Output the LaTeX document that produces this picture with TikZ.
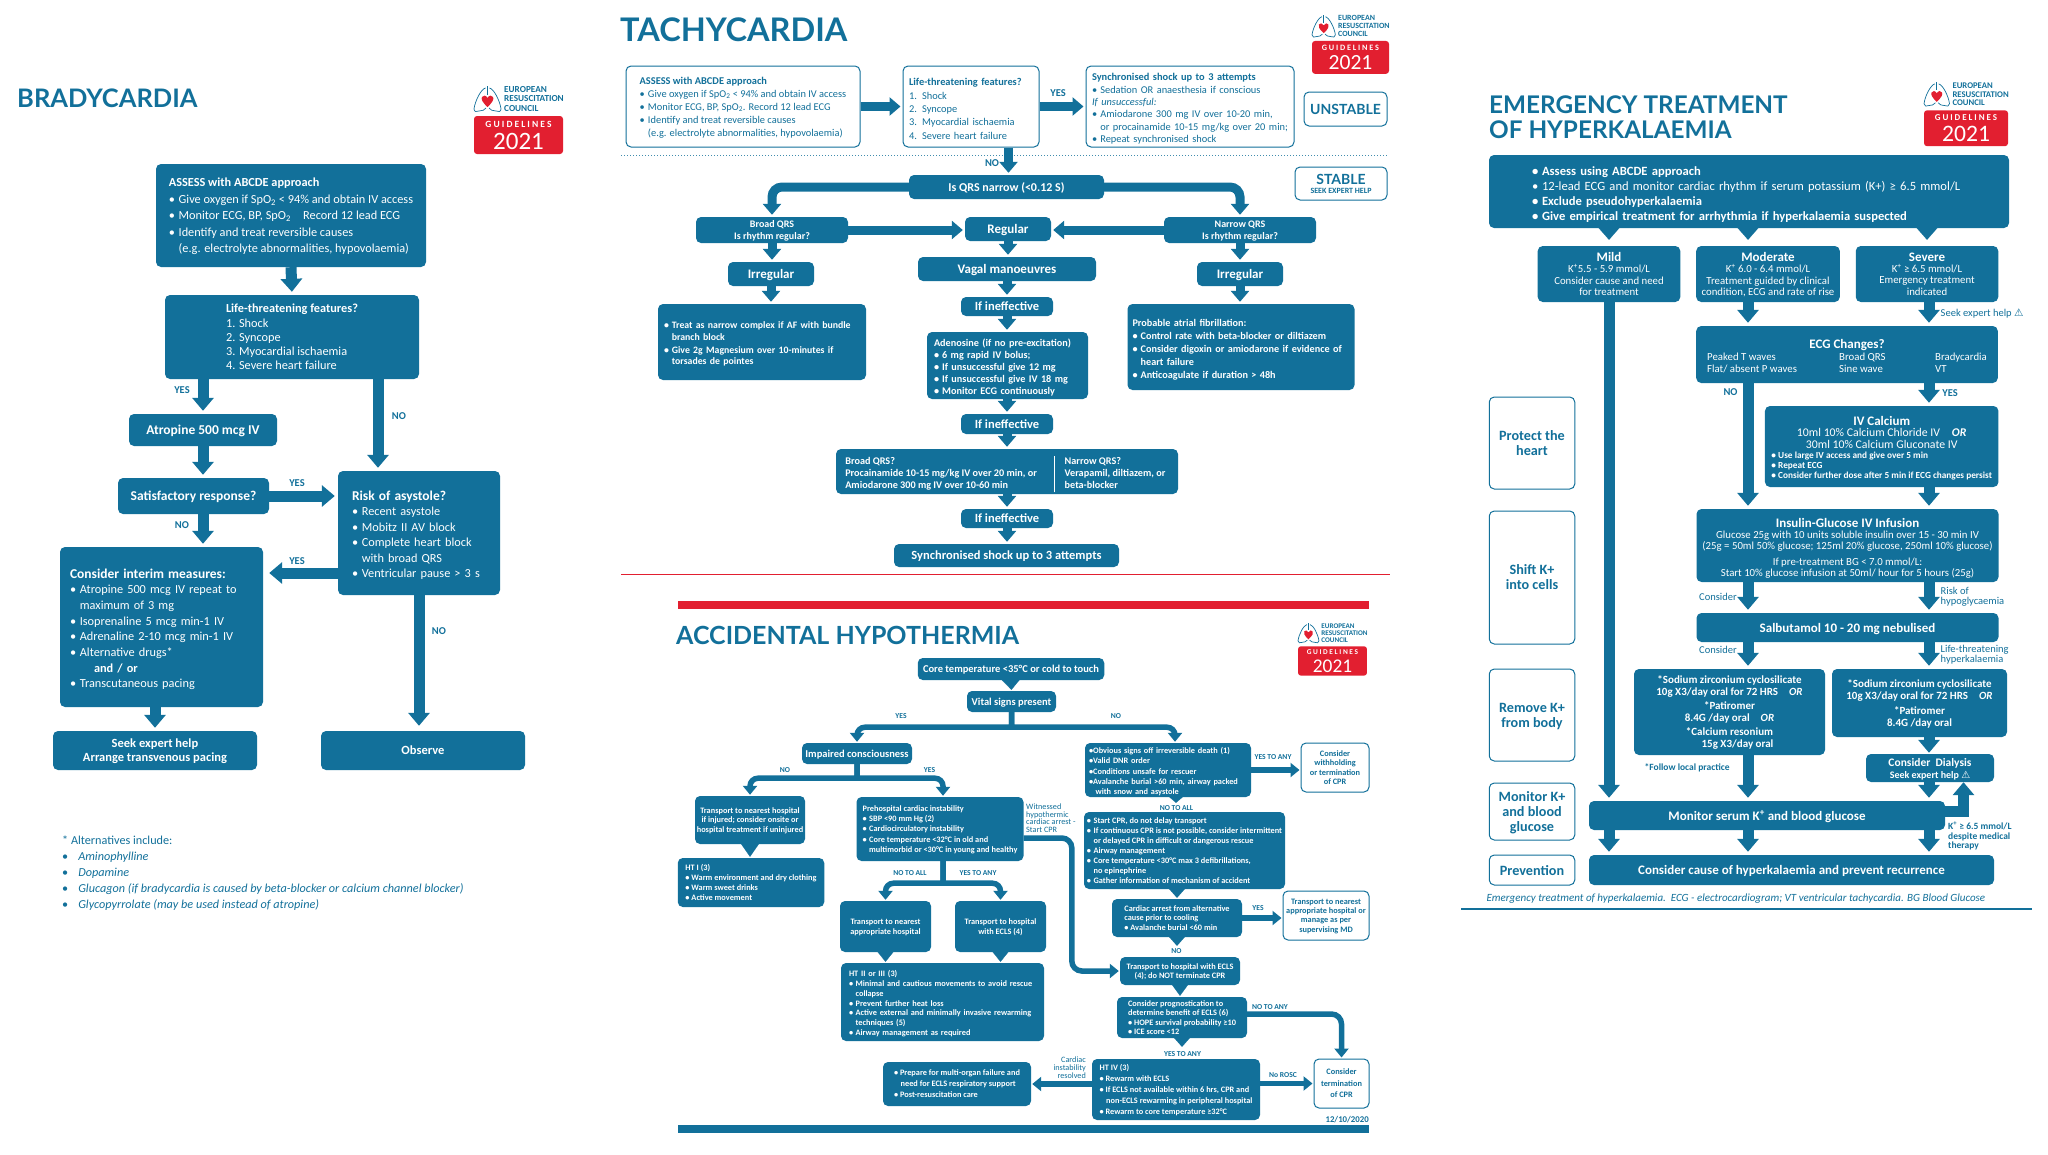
\documentclass[tikz,border=0pt]{standalone}
\usepackage{fontspec}
\setmainfont{Carlito}
\newfontfamily\headfont{Lato}
\newfontfamily\signfont{DejaVu Sans}
\usepackage{xcolor}
\usetikzlibrary{arrows.meta}
\definecolor{ercBlue}{HTML}{12709A}
\definecolor{ercRed}{HTML}{E21F30}

\newcommand{\bul}{\textbullet\hspace{0.3em}}
\newcommand{\cont}{\hphantom{\textbullet\hspace{0.3em}}}
\newcommand{\warnsign}{{\signfont\char"26A0}}
\newcommand{\topup}{\rule{0pt}{1.15em}}

\tikzset{
    txt/.style 2 args={font=\fontsize{#1}{#2}\selectfont},
    btxt/.style 2 args={font=\bfseries\fontsize{#1}{#2}\selectfont},
    boxsize/.style 2 args={minimum width=#1, minimum height=#2},
    padded/.style={text width=#1, text depth=},
    tealbox/.style={fill=ercBlue, text=white, rounded corners=5pt, inner sep=0pt, align=left, text depth=0pt},
    whitebox/.style={draw=ercBlue, line width=1pt, fill=white, text=ercBlue, rounded corners=5pt, inner sep=0pt, align=center, text depth=0pt},
    tag/.style={text=ercBlue, inner sep=0pt, align=left},
    heading/.style={text=ercBlue, anchor=west, inner sep=0pt, align=left, font=\headfont\bfseries\fontsize{#1}{25}\selectfont},
    flow/.style={draw=ercBlue, line width=11pt, -{Triangle[width=21pt,length=13pt]}, shorten >=3pt},
    flowmid/.style={draw=ercBlue, line width=9pt, -{Triangle[width=18pt,length=11pt]}, shorten >=2pt},
    flowthin/.style={draw=ercBlue, line width=5.5pt, -{Triangle[width=14pt,length=9pt]}, shorten >=1pt},
    wedge/.style 2 args={draw=ercBlue, line width=0.1pt, -{Triangle[width=#1pt,length=#2pt]}, shorten >=1pt},
    lungline/.style={draw=ercBlue, line width=0.7pt},
}

\newcommand{\ercLogo}[4]{
    \begin{scope}[shift={(#2,#3)}, scale=#4, transform shape]
        \draw[lungline] (11.5,2) .. controls (7,3) and (1,15) .. (0,23) .. controls (0,26) and (3,26) .. (5,25) .. controls (8,24) and (11,25) .. (12,22);
        \draw[lungline] (15.5,2) .. controls (20,3) and (26,15) .. (27,23) .. controls (27,26) and (24,26) .. (22,25) .. controls (19,24) and (16,25) .. (15,22);
        \draw[lungline] (13.5,0) -- (13.5,9);
        \fill[ercRed] (13.5,21) .. controls (8,16) and (7,13) .. (8,11) .. controls (9,9) and (12,9) .. (13.5,12) .. controls (15,9) and (18,9) .. (19,11) .. controls (20,13) and (19,16) .. (13.5,21) -- cycle;
        \node[text=ercBlue, anchor=west, inner sep=0pt, align=left, btxt={9.2}{9.4}] (#1council) at (30,13) {EUROPEAN\\RESUSCITATION\\COUNCIL};
        \node[fill=ercRed, rounded corners=3pt, boxsize={89}{38}, inner sep=0pt] (#1badge) at (44.5,49) {};
        \node[text=white, inner sep=0pt, font=\bfseries\fontsize{9.5}{10}\selectfont\addfontfeature{LetterSpace=22}] (#1guide) at (44.5,38) {GUIDELINES};
        \node[text=white, inner sep=0pt, font=\fontsize{25}{26}\selectfont] (#1year) at (44.5,55.5) {2021};
    \end{scope}
}

\begin{document}
\begin{tikzpicture}[x=1pt, y=-1pt]
    \useasboundingbox (0,0) rectangle (2048,1154);

    % bradycardia
    \node[heading=25.5] (bradytitle) at (17,98) {BRADYCARDIA};
    \ercLogo{brady}{474}{86}{1}
    \node[tealbox, boxsize={270}{103}, txt={12.3}{16.5}] (assess) at (291,215.5) {
        \textbf{ASSESS with ABCDE approach}\\
        \bul Give oxygen if SpO\textsubscript{2} < 94\% and obtain IV access\\
        \bul Monitor ECG, BP, SpO\textsubscript{2}\quad Record 12 lead ECG\\
        \bul Identify and treat reversible causes\\
        \cont (e.g. electrolyte abnormalities, hypovolaemia)};
    \node[tealbox, boxsize={254}{84}, txt={12.3}{14.3}] (life) at (292,337) {
        \textbf{Life-threatening features?}\\
        1. Shock\\
        2. Syncope\\
        3. Myocardial ischaemia\\
        4. Severe heart failure};
    \node[tealbox, align=center, boxsize={148}{32}, btxt={13.5}{16}] (atropine) at (203,430) {Atropine 500 mcg IV};
    \node[tealbox, align=center, boxsize={151}{36}, btxt={13.5}{16}] (satisfy) at (193.5,496) {Satisfactory response?};
    \node[tealbox, boxsize={162}{124}, txt={12.3}{15.5}, padded=134pt] (risk) at (419,533) {
        \topup{\bfseries\fontsize{13.5}{16}\selectfont Risk of asystole?}\\
        \bul Recent asystole\\
        \bul Mobitz II AV block\\
        \bul Complete heart block\\
        \cont with broad QRS\\
        \bul Ventricular pause > 3 s};
    \node[tealbox, boxsize={203}{160}, txt={12.3}{15.7}, padded=183pt] (interim) at (161.5,627) {
        \topup{\bfseries\fontsize{13.5}{16}\selectfont Consider interim measures:}\\
        \bul Atropine 500 mcg IV repeat to\\
        \cont maximum of 3 mg\\
        \bul Isoprenaline 5 mcg min-1 IV\\
        \bul Adrenaline 2-10 mcg min-1 IV\\
        \bul Alternative drugs*\\
        \hspace{24pt}\textbf{and / or}\\
        \bul Transcutaneous pacing};
    \node[tealbox, boxsize={204}{39}, btxt={12.5}{14}, align=center] (seekhelp) at (155,750.5) {Seek expert help\\Arrange transvenous pacing};
    \node[tealbox, boxsize={204}{39}, btxt={12.5}{14}, align=center] (observe) at (423,750.5) {Observe};
    \node[tag, btxt={10.5}{12}] (yeslife) at (182,390) {YES};
    \node[tag, btxt={10.5}{12}] (nolife) at (399,416) {NO};
    \node[tag, btxt={10.5}{12}] (yessat) at (297,483) {YES};
    \node[tag, btxt={10.5}{12}] (nosat) at (182,525) {NO};
    \node[tag, btxt={10.5}{12}] (yesrisk) at (297,561) {YES};
    \node[tag, btxt={10.5}{12}] (norisk) at (439,631) {NO};
    \node[tag, anchor=north west, txt={12.2}{16}] (alternatives) at (62,835.5) {
        * Alternatives include:\\[0.5pt]
        \textbullet\hspace{10pt}\textit{Aminophylline}\\
        \textbullet\hspace{10pt}\textit{Dopamine}\\
        \textbullet\hspace{10pt}\textit{Glucagon (if bradycardia is caused by beta-blocker or calcium channel blocker)}\\
        \textbullet\hspace{10pt}\textit{Glycopyrrolate (may be used instead of atropine)}};
    \draw[flow] (assess.south) -- (life.north);
    \draw[flow] (life.south -| atropine.north) -- (atropine.north);
    \draw[flow] ([xshift=-41]risk.north |- life.south) -- ([xshift=-41]risk.north);
    \draw[flow] (atropine.south) -- (atropine.south |- satisfy.north);
    \draw[flow] (atropine.south |- satisfy.south) -- (atropine.south |- interim.north);
    \draw[flow] (satisfy.east) -- (satisfy.east -| risk.west);
    \draw[flow, shorten >=6pt] ([yshift=-40]risk.west) -- ([yshift=-40]risk.west -| interim.east);
    \draw[flow] (seekhelp.north |- interim.south) -- (seekhelp.north);
    \draw[flow, shorten >=5pt] (risk.south) -- (risk.south |- observe.north);

    % tachycardia
    \node[heading=32.5] (tachytitle) at (620,30) {TACHYCARDIA};
    \ercLogo{tachy}{1312}{15}{0.865}
    \node[whitebox, align=left, boxsize={234}{81}, txt={10.4}{13}] (tassess) at (743,106.5) {
        \textbf{ASSESS with ABCDE approach}\\
        \bul Give oxygen if SpO\textsubscript{2} < 94\% and obtain IV access\\
        \bul Monitor ECG, BP, SpO\textsubscript{2}. Record 12 lead ECG\\
        \bul Identify and treat reversible causes\\
        \cont (e.g. electrolyte abnormalities, hypovolaemia)};
    \node[whitebox, align=left, boxsize={136}{81}, txt={10.4}{13.3}, padded=124pt] (tlife) at (971,106.5) {
        \topup\textbf{Life-threatening features?}\\
        1. Shock\\
        2. Syncope\\
        3. Myocardial ischaemia\\
        4. Severe heart failure};
    \node[whitebox, align=left, boxsize={208}{81}, txt={10.4}{12.4}, padded=196pt] (tshock) at (1190,106.5) {
        \topup\textbf{Synchronised shock up to 3 attempts}\\
        \bul Sedation OR anaesthesia if conscious\\
        \textit{If unsuccessful:}\\
        \bul Amiodarone 300 mg IV over 10-20 min,\\
        \cont or procainamide 10-15 mg/kg over 20 min;\\
        \bul Repeat synchronised shock};
    \node[whitebox, boxsize={83}{34}, font=\headfont\bfseries\fontsize{14}{16}\selectfont] (unstable) at (1345.5,109) {UNSTABLE};
    \node[whitebox, boxsize={92}{33}, txt={8}{9}] (stable) at (1341,183.5) {{\headfont\bfseries\fontsize{14}{15}\selectfont STABLE}\\\textbf{SEEK EXPERT HELP}};
    \coordinate (dotleft) at (621,155);
    \coordinate (dotright) at (1388,155);
    \draw[ercBlue!80, line width=1pt, dotted] (dotleft) -- (dotright);
    \node[tealbox, align=center, boxsize={195}{24}, btxt={12}{14}] (isqrs) at (1006.5,187) {Is QRS narrow (<0.12 S)};
    \node[tealbox, align=center, boxsize={152}{26}, btxt={10}{11.5}] (broad) at (772,230) {Broad QRS\\Is rhythm regular?};
    \node[tealbox, align=center, boxsize={86}{24}, btxt={13}{15}] (regular) at (1008,229) {Regular};
    \node[tealbox, align=center, boxsize={152}{26}, btxt={10}{11.5}] (narrow) at (1240,230) {Narrow QRS\\Is rhythm regular?};
    \node[tealbox, align=center, boxsize={86}{24}, btxt={13}{15}] (irregleft) at (771,274) {Irregular};
    \node[tealbox, align=center, boxsize={178}{24}, btxt={13}{15}] (vagal) at (1007,269) {Vagal manoeuvres};
    \node[tealbox, align=center, boxsize={86}{24}, btxt={13}{15}] (irregright) at (1240,274) {Irregular};
    \node[tealbox, boxsize={208}{76}, btxt={9.8}{11.5}, padded=196pt] (treat) at (762,342) {
        \topup\bul Treat as narrow complex if AF with bundle\\
        \cont branch block\\[1.5pt]
        \bul Give 2g Magnesium over 10-minutes if\\
        \cont torsades de pointes};
    \node[tealbox, align=center, boxsize={92}{19}, btxt={12.5}{14}] (ineffone) at (1007,306.5) {If ineffective};
    \node[tealbox, boxsize={161}{67}, btxt={10.2}{12}, padded=147pt] (adeno) at (1007.5,365.5) {
        \topup Adenosine (if no pre-excitation)\\
        \bul 6 mg rapid IV bolus;\\
        \bul If unsuccessful give 12 mg\\
        \bul If unsuccessful give IV 18 mg\\
        \bul Monitor ECG continuously};
    \node[tealbox, boxsize={227}{86}, btxt={10.2}{13}, padded=217pt] (fib) at (1241,347) {
        \topup Probable atrial fibrillation:\\
        \bul Control rate with beta-blocker or diltiazem\\
        \bul Consider digoxin or amiodarone if evidence of\\
        \cont heart failure\\
        \bul Anticoagulate if duration > 48h};
    \node[tealbox, align=center, boxsize={92}{20}, btxt={12.5}{14}] (inefftwo) at (1007,424) {If ineffective};
    \node[tealbox, boxsize={342}{45}, btxt={10.2}{12}, text depth=10pt] (drugs) at (1007,471.5) {%
        \begin{tabular}{@{}p{203pt}@{\hspace{6pt}\vrule\hspace{10pt}}p{104pt}@{}}
            Broad QRS? & Narrow QRS?\\
            Procainamide 10-15 mg/kg IV over 20 min, or & Verapamil, diltiazem, or\\
            Amiodarone 300 mg IV over 10-60 min & beta-blocker
        \end{tabular}};
    \node[tealbox, align=center, boxsize={92}{19}, btxt={12.5}{14}] (ineffthree) at (1007,518.5) {If ineffective};
    \node[tealbox, align=center, boxsize={225}{23}, btxt={12.5}{14}] (syncshock) at (1006.5,555.5) {Synchronised shock up to 3 attempts};
    \node[tag, btxt={10.5}{12}] (yestachy) at (1058,93) {YES};
    \node[tag, btxt={10.5}{12}] (notachy) at (992,163) {NO};
    \draw[flowmid] (tassess.east) -- (tlife.west);
    \draw[flowmid] (tlife.east) -- (tshock.west);
    \draw[flowmid] ([xshift=37.5]tlife.south) -- ([xshift=2]isqrs.north);
    \draw[flowmid, rounded corners=10pt] (isqrs.west) -| (broad.north);
    \draw[flowmid, rounded corners=10pt] (isqrs.east) -| (narrow.north);
    \draw[flowmid] (broad.east) -- (broad.east -| regular.west);
    \draw[flowmid] (narrow.west) -- (narrow.west -| regular.east);
    \draw[flowmid] (broad.south) -- (broad.south |- irregleft.north);
    \draw[flowmid] (regular.south) -- (regular.south |- vagal.north);
    \draw[flowmid] (narrow.south) -- (irregright.north);
    \draw[flowmid] (irregleft.south) -- (irregleft.south |- treat.north);
    \draw[flowmid] (irregright.south) -- (irregright.south |- fib.north);
    \draw[flowmid] (vagal.south) -- (ineffone.north);
    \draw[flowmid] (ineffone.south) -- (ineffone.south |- adeno.north);
    \draw[flowmid] (ineffone.south |- adeno.south) -- (inefftwo.north);
    \draw[flowmid] (inefftwo.south) -- (drugs.north);
    \draw[flowmid] (drugs.south) -- (ineffthree.north);
    \draw[flowmid] (ineffthree.south) -- (ineffthree.south |- syncshock.north);
    \coordinate (redleft) at (621,574);
    \coordinate (redright) at (1390,574);
    \draw[ercRed, line width=1pt] (redleft) -- (redright);

    % accidental hypothermia
    \node[fill=ercRed, boxsize={691.5}{7.5}, inner sep=0pt] (redbar) at (1023.25,604.75) {};
    \node[fill=ercBlue, boxsize={691.5}{8}, inner sep=0pt] (bluebar) at (1023.25,1129) {};
    \node[heading=25] (hypotitle) at (676,635) {ACCIDENTAL HYPOTHERMIA};
    \ercLogo{hypo}{1298}{623}{0.775}
    \node[tealbox, align=center, boxsize={186.5}{22}, btxt={10.5}{12}] (core) at (1011,669) {Core temperature <35°C or cold to touch};
    \node[tealbox, align=center, boxsize={89}{21}, btxt={10.5}{12}] (vital) at (1011.5,701.5) {Vital signs present};
    \node[tealbox, align=center, boxsize={110}{21}, btxt={10.5}{12}] (impaired) at (857,753.5) {Impaired consciousness};
    \node[tealbox, boxsize={166}{54}, btxt={8.3}{10.3}, padded=158pt] (obvious) at (1168,770) {
        \topup\textbullet Obvious signs off irreversible death (1)\\
        \textbullet Valid DNR order\\
        \textbullet Conditions unsafe for rescuer\\
        \textbullet Avalanche burial >60 min, airway packed\\
        \cont with snow and asystole};
    \node[whitebox, boxsize={68}{49}, btxt={8.3}{9.5}] (withhold) at (1335,767.5) {Consider\\withholding\\or termination\\of CPR};
    \node[tealbox, align=center, boxsize={110}{48}, btxt={8.3}{9.5}] (tonearest) at (750,820) {Transport to nearest hospital\\if injured; consider onsite or\\hospital treatment if uninjured};
    \node[tealbox, boxsize={146.5}{49}, btxt={8.3}{10}] (htone) at (751,882.5) {
        HT I (3)\\
        \textbullet\ Warm environment and dry clothing\\
        \textbullet\ Warm sweet drinks\\
        \textbullet\ Active movement};
    \node[tealbox, boxsize={167}{64}, btxt={8.3}{10.4}] (prehosp) at (940,829) {
        Prehospital cardiac instability\\
        \bul SBP <90 mm Hg (2)\\
        \bul Cardiocirculatory instability\\
        \bul Core temperature <32°C in old and\\
        \cont multimorbid or <30°C in young and healthy};
    \node[tag, anchor=north west, txt={8.2}{7.5}] (witnessed) at (1026,804) {Witnessed\\hypothermic\\cardiac arrest -\\Start CPR};
    \node[tealbox, boxsize={201}{77}, btxt={8.3}{10}] (startcpr) at (1184.5,850.5) {
        \bul Start CPR, do not delay transport\\
        \bul If continuous CPR is not possible, consider intermittent\\
        \cont or delayed CPR in difficult or dangerous rescue\\
        \bul Airway management\\
        \bul Core temperature <30°C max 3 defibrillations,\\
        \cont no epinephrine\\
        \bul Gather information of mechanism of accident};
    \node[tealbox, boxsize={130}{38}, btxt={8.3}{9.8}] (altcause) at (1177,918) {
        Cardiac arrest from alternative\\
        cause prior to cooling\\
        \textbullet\ Avalanche burial <60 min};
    \node[whitebox, boxsize={86}{49}, btxt={8.3}{9.2}] (supervise) at (1326,915.5) {Transport to nearest\\appropriate hospital or\\manage as per\\supervising MD};
    \node[tealbox, align=center, boxsize={91}{51}, btxt={8.3}{10.3}] (nearhosp) at (885.5,926.5) {Transport to nearest\\appropriate hospital};
    \node[tealbox, align=center, boxsize={91}{51}, btxt={8.3}{10.3}] (eclshosp) at (1000.5,926.5) {Transport to hospital\\with ECLS (4)};
    \node[tealbox, boxsize={203}{78}, btxt={8.3}{9.8}, padded=187pt] (httwo) at (942.5,1002) {
        \topup HT II or III (3)\\
        \bul Minimal and cautious movements to avoid rescue\\
        \cont collapse\\
        \bul Prevent further heat loss\\
        \bul Active external and minimally invasive rewarming\\
        \cont techniques (5)\\
        \bul Airway management as required};
    \node[tealbox, align=center, boxsize={120}{28}, btxt={8.3}{9.3}] (eclsgo) at (1180,971) {Transport to hospital with ECLS\\(4); do NOT terminate CPR};
    \node[tealbox, boxsize={130}{41}, btxt={8.3}{9.5}] (prognosis) at (1182,1017.5) {
        Consider prognostication to\\
        determine benefit of ECLS (6)\\
        \textbullet\ HOPE survival probability ≥10\\
        \textbullet\ ICE score <12};
    \node[tealbox, boxsize={168}{61}, btxt={8.3}{10.8}] (htfour) at (1176,1089.5) {
        HT IV (3)\\
        \textbullet\ Rewarm with ECLS\\
        \textbullet\ If ECLS not available within 6 hrs, CPR and\\
        \cont non-ECLS rewarming in peripheral hospital\\
        \textbullet\ Rewarm to core temperature ≥32°C};
    \node[whitebox, boxsize={55}{49}, btxt={8.3}{11.5}] (terminate) at (1341.5,1083.5) {Consider\\termination\\of CPR};
    \node[tealbox, boxsize={148}{44}, btxt={8.3}{11}] (prepare) at (957,1084) {
        \textbullet\ Prepare for multi-organ failure and\\
        \cont need for ECLS respiratory support\\
        \textbullet\ Post-resuscitation care};
    \node[tag, anchor=north east, align=right, txt={8.2}{7.6}] (resolved) at (1086,1057) {Cardiac\\instability\\resolved};
    \node[tag, btxt={7.6}{9}] (yesvital) at (901,716) {YES};
    \node[tag, btxt={7.6}{9}] (novital) at (1116,716) {NO};
    \node[tag, btxt={7.6}{9}] (noimpair) at (785,770) {NO};
    \node[tag, btxt={7.6}{9}] (yesimpair) at (929.5,770) {YES};
    \node[tag, btxt={7.6}{9}] (yesanyone) at (1273,757) {YES TO ANY};
    \node[tag, btxt={7.6}{9}] (noallone) at (1176.5,808) {NO TO ALL};
    \node[tag, btxt={7.6}{9}] (noalltwo) at (910,873) {NO TO ALL};
    \node[tag, btxt={7.6}{9}] (yesanytwo) at (978,873) {YES TO ANY};
    \node[tag, btxt={7.6}{9}] (yesalt) at (1258,908) {YES};
    \node[tag, btxt={7.6}{9}] (noalt) at (1176.5,951) {NO};
    \node[tag, btxt={7.6}{9}] (noany) at (1270,1007) {NO TO ANY};
    \node[tag, btxt={7.6}{9}] (yesanythree) at (1182.5,1054) {YES TO ANY};
    \node[tag, btxt={7.6}{9}] (norosc) at (1283,1075) {No ROSC};
    \node[tag, anchor=north east, btxt={8.8}{10}] (datestamp) at (1369,1116) {12/10/2020};
    \draw[wedge={18}{10}] (core.south) -- (vital.north);
    \draw[flowthin] (vital.south) -- ++(0,15) [rounded corners=8pt] -| (impaired.north);
    \draw[flowthin] (vital.south) -- ++(0,15) [rounded corners=8pt] -| ([xshift=7]obvious.north);
    \draw[flowthin] (impaired.south) -- ++(0,14) [rounded corners=8pt] -| (tonearest.north);
    \draw[flowthin] (impaired.south) -- ++(0,14) [rounded corners=8pt] -| ([xshift=3]prehosp.north);
    \draw[wedge={18}{13}] (tonearest.south) -- (tonearest.south |- htone.north);
    \draw[flowthin] ([xshift=3]prehosp.south) -- ++(0,22) [rounded corners=8pt] -| (nearhosp.north);
    \draw[flowthin] ([xshift=3]prehosp.south) -- ++(0,22) [rounded corners=8pt] -| (eclshosp.north);
    \draw[wedge={16}{10}] (nearhosp.south) -- (nearhosp.south |- httwo.north);
    \draw[wedge={16}{10}] (eclshosp.south) -- (eclshosp.south |- httwo.north);
    \draw[flowthin] (obvious.east) -- (obvious.east -| withhold.west);
    \draw[wedge={14}{6}, shorten >=9pt] ([xshift=8]obvious.south) -- ([xshift=8]obvious.south |- startcpr.north);
    \draw[wedge={16}{9}] (altcause.north |- startcpr.south) -- (altcause.north);
    \draw[flowthin] (altcause.east) -- (altcause.east -| supervise.west);
    \draw[wedge={16}{9}, shorten >=11pt] (altcause.south) -- (altcause.south |- eclsgo.north);
    \draw[flowthin, rounded corners=10pt] ([yshift=-9]prehosp.east) -| ([xshift=-48]eclsgo.west) -- (eclsgo.west);
    \draw[wedge={16}{11}] (eclsgo.south) -- (eclsgo.south |- prognosis.north);
    \draw[flowthin, rounded corners=10pt] ([yshift=3.5]prognosis.east) -| (terminate.north);
    \draw[wedge={16}{9}, shorten >=12pt] (prognosis.south) -- (prognosis.south |- htfour.north);
    \draw[flowthin] (terminate.west -| htfour.east) -- (terminate.west);
    \draw[flowthin] (prepare.east -| htfour.west) -- (prepare.east);

    % hyperkalaemia
    \node[heading=24.3] (hypertitle) at (1489,117.5) {EMERGENCY TREATMENT\\OF HYPERKALAEMIA};
    \ercLogo{hyper}{1924}{82}{0.944}
    \coordinate (lefthand) at (1748,0);
    \coordinate (righthand) at (1929,0);
    \coordinate (backhand) at (1963.5,0);
    \node[tealbox, boxsize={520}{73}, txt={12.6}{15}, padded=434pt] (firststep) at (1749,191.5) {
        \topup\textbf{\bul Assess using ABCDE approach}\\
        \mbox{\bul 12-lead ECG and monitor cardiac rhythm if serum potassium (K+) ≥ 6.5 mmol/L}\\
        \textbf{\bul Exclude pseudohyperkalaemia}\\
        \textbf{\bul Give empirical treatment for arrhythmia if hyperkalaemia suspected}};
    \node[tealbox, align=center, boxsize={142.6}{56}, txt={10.8}{11.3}] (mild) at (1609,274) {{\bfseries\fontsize{13}{14}\selectfont Mild}\\K\textsuperscript{+}5.5 - 5.9 mmol/L\\Consider cause and need\\for treatment};
    \node[tealbox, align=center, boxsize={143.6}{56}, txt={10.8}{11.3}] (moderate) at (1768,274) {{\bfseries\fontsize{13}{14}\selectfont Moderate}\\K\textsuperscript{+} 6.0 - 6.4 mmol/L\\Treatment guided by clinical\\condition, ECG and rate of rise};
    \node[tealbox, align=center, boxsize={142.5}{56}, txt={10.8}{11.3}] (severe) at (1927,274) {{\bfseries\fontsize{13}{14}\selectfont Severe}\\K\textsuperscript{+} ≥ 6.5 mmol/L\\Emergency treatment\\indicated};
    \node[tealbox, align=center, boxsize={301.6}{57}, txt={10.8}{12.5}, text depth=3pt] (ecgchange) at (1847,354.5) {%
        {\bfseries\fontsize{13}{14}\selectfont ECG Changes?}\\
        \begin{tabular}{@{}p{120pt}p{84pt}l@{}}
            Peaked T waves & Broad QRS & Bradycardia\\
            Flat/ absent P waves & Sine wave & VT
        \end{tabular}};
    \node[tealbox, boxsize={233.5}{81}, txt={11.8}{11.3}, align=center, text depth=8pt] (ivcalcium) at (1881.7,446.5) {%
        {\bfseries\fontsize{13}{14}\selectfont IV Calcium}\\
        10ml 10\% Calcium Chloride IV\quad \textbf{\textit{OR}}\\
        30ml 10\% Calcium Gluconate IV\\[2pt]
        {\bfseries\fontsize{9.3}{10}\selectfont\begin{tabular}{@{}l@{}}
            \textbullet\ Use large IV access and give over 5 min\\
            \textbullet\ Repeat ECG\\
            \textbullet\ Consider further dose after 5 min if ECG changes persist
        \end{tabular}}};
    \node[tealbox, align=center, boxsize={302}{73}, txt={10.8}{11.3}] (insulin) at (1847.5,545.5) {%
        \topup{\bfseries\fontsize{13}{14}\selectfont Insulin-Glucose IV Infusion}\\
        Glucose 25g with 10 units soluble insulin over 15 - 30 min IV\\
        (25g = 50ml 50\% glucose; 125ml 20\% glucose, 250ml 10\% glucose)\\[4pt]
        If pre-treatment BG < 7.0 mmol/L:\\
        Start 10\% glucose infusion at 50ml/ hour for 5 hours (25g)};
    \node[tealbox, align=center, boxsize={302}{29}, btxt={13}{15}] (salbutamol) at (1847.5,627.5) {Salbutamol 10 - 20 mg nebulised};
    \node[tealbox, align=center, boxsize={191}{86}, btxt={11}{12}] (sodiumone) at (1729.5,712) {%
        *Sodium zirconium cyclosilicate\\
        10g X3/day oral for 72 HRS\quad\textit{OR}\\[2pt]
        *Patiromer\\
        8.4G /day oral\quad\textit{OR}\\[2pt]
        *Calcium resonium\\
        \hspace{16pt}15g X3/day oral};
    \node[tealbox, align=center, boxsize={175}{68}, btxt={11}{12.3}] (sodiumtwo) at (1919.5,703) {%
        *Sodium zirconium cyclosilicate\\
        10g X3/day oral for 72 HRS\quad\textit{OR}\\[2pt]
        *Patiromer\\
        8.4G /day oral};
    \node[tealbox, align=center, boxsize={128}{28}, btxt={10}{12}] (dialysis) at (1930,768) {{\fontsize{11.5}{12}\selectfont Consider\ \ Dialysis}\\Seek expert help \warnsign};
    \node[tealbox, align=center, boxsize={356}{29}, btxt={13}{15}] (monitor) at (1767,815.5) {Monitor serum K\textsuperscript{+} and blood glucose};
    \node[tealbox, align=center, boxsize={405}{30}, btxt={13}{15}] (cause) at (1791.5,870) {Consider cause of hyperkalaemia and prevent recurrence};
    \node[whitebox, boxsize={85.5}{92}, btxt={14.2}{15}] (protect) at (1532,443) {Protect the\\heart};
    \node[whitebox, boxsize={85.5}{133}, btxt={14.2}{15}] (shift) at (1532,577.5) {Shift K+\\into cells};
    \node[whitebox, boxsize={85.5}{92}, btxt={14.2}{15}] (remove) at (1532,715) {Remove K+\\from body};
    \node[whitebox, boxsize={85.5}{57}, btxt={14.2}{15}] (monitorside) at (1532,811.5) {Monitor K+\\and blood\\glucose};
    \node[whitebox, boxsize={85.5}{30}, btxt={14.2}{15}] (prevention) at (1532,870) {Prevention};
    \node[tag, anchor=west, txt={10.5}{12}] (seekexpert) at (1940.5,314) {Seek expert help \warnsign};
    \node[tag, btxt={10.5}{12}] (nocalcium) at (1730.5,392) {NO};
    \node[tag, btxt={10.5}{12}] (yescalcium) at (1950,393) {YES};
    \node[tag, anchor=west, txt={10.5}{12}] (considerone) at (1699,597) {Consider};
    \node[tag, anchor=west, txt={10.5}{10}] (hypoglyc) at (1940.5,597) {Risk of\\hypoglycaemia};
    \node[tag, anchor=west, txt={10.5}{12}] (considertwo) at (1699,650) {Consider};
    \node[tag, anchor=west, txt={10.5}{9.5}] (lifehyper) at (1940.5,654.5) {Life-threatening\\hyperkalaemia};
    \node[tag, anchor=west, btxt={9.5}{11}] (localpractice) at (1644.5,768) {*Follow local practice};
    \node[tag, anchor=west, btxt={9.5}{9.5}] (despite) at (1948,836) {K\textsuperscript{+} ≥ 6.5 mmol/L\\despite medical\\therapy};
    \node[tag, anchor=west, txt={11}{12}] (captionhyper) at (1486.5,899) {\textit{Emergency treatment of hyperkalaemia.\ \ ECG - electrocardiogram; VT ventricular tachycardia. BG Blood Glucose}};
    \coordinate (ruleleft) at (1461,909);
    \coordinate (ruleright) at (2032,909);
    \draw[ercBlue, line width=1.5pt] (ruleleft) -- (ruleright);
    \draw[wedge={21}{12}, shorten >=6pt] (firststep.south -| mild.north) -- (mild.north);
    \draw[wedge={21}{12}, shorten >=6pt] (firststep.south -| lefthand) -- (moderate.north -| lefthand);
    \draw[wedge={21}{12}, shorten >=6pt] (firststep.south -| severe.north) -- (severe.north);
    \draw[flow] (mild.south) -- (mild.south |- monitor.north);
    \draw[flow] (moderate.south -| lefthand) -- (ecgchange.north -| lefthand);
    \draw[flow] (severe.south -| righthand) -- (ecgchange.north -| righthand);
    \draw[flow] (ecgchange.south -| lefthand) -- (insulin.north -| lefthand);
    \draw[flow] (ecgchange.south -| righthand) -- (ivcalcium.north -| righthand);
    \draw[flow] (ivcalcium.south -| righthand) -- (insulin.north -| righthand);
    \draw[flow] (insulin.south -| lefthand) -- (salbutamol.north -| lefthand);
    \draw[flow] (insulin.south -| righthand) -- (salbutamol.north -| righthand);
    \draw[flow] (salbutamol.south -| lefthand) -- (sodiumone.north -| lefthand);
    \draw[flow] (salbutamol.south -| righthand) -- (sodiumtwo.north -| righthand);
    \draw[flow] (sodiumone.south -| lefthand) -- (monitor.north -| lefthand);
    \draw[flow, shorten >=1pt] (sodiumtwo.south -| righthand) -- (dialysis.north -| righthand);
    \draw[flow] (dialysis.south -| righthand) -- (monitor.north -| righthand);
    \draw[flow, shorten >=0pt] ([yshift=4]monitor.east) -| (dialysis.south -| backhand);
    \draw[flow] (monitor.south -| mild.south) -- (cause.north -| mild.south);
    \draw[flow] (monitor.south -| lefthand) -- (cause.north -| lefthand);
    \draw[flow] (monitor.south -| righthand) -- (cause.north -| righthand);
\end{tikzpicture}
\end{document}
